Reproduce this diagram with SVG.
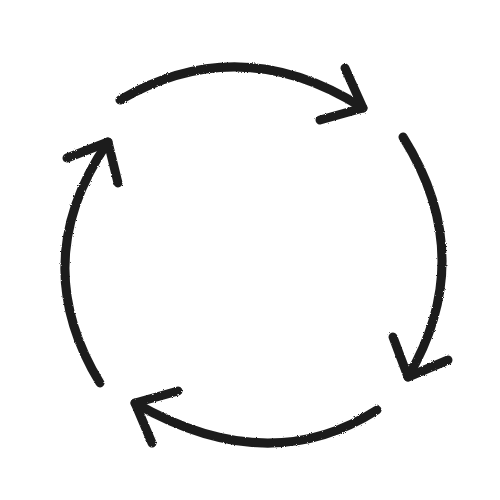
<svg xmlns="http://www.w3.org/2000/svg" width="500" height="500" viewBox="0 0 500 500">
  <defs>
    <filter id="rough" x="-10%" y="-10%" width="120%" height="120%">
      <feTurbulence type="fractalNoise" baseFrequency="0.9" numOctaves="2" seed="3" result="n"/>
      <feDisplacementMap in="SourceGraphic" in2="n" scale="2.5"/>
    </filter>
    <style>
      .stroke { fill: none; stroke: #1e1e1e; stroke-width: 9; stroke-linecap: round; stroke-linejoin: round; }
    </style>
  </defs>
  <rect width="500" height="500" fill="#ffffff"/>
  <g id="connectors" filter="url(#rough)">
    <g id="arrow-top">
      <path class="stroke" d="M120,100 Q240.5,30 363,108"/>
      <path class="stroke" d="M345,68 L363,108 L320,120"/>
    </g>
    <g id="arrow-right">
      <path class="stroke" d="M403,137 Q478.5,257 408,377"/>
      <path class="stroke" d="M393,337 L408,377 L448,360"/>
    </g>
    <g id="arrow-bottom">
      <path class="stroke" d="M377,410 Q268,479.5 135,403"/>
      <path class="stroke" d="M178,391 L135,403 L152,443"/>
    </g>
    <g id="arrow-left">
      <path class="stroke" d="M100,383 Q26,261.5 108,142"/>
      <path class="stroke" d="M67,158 L108,142 L118,183"/>
    </g>
  </g>
</svg>
